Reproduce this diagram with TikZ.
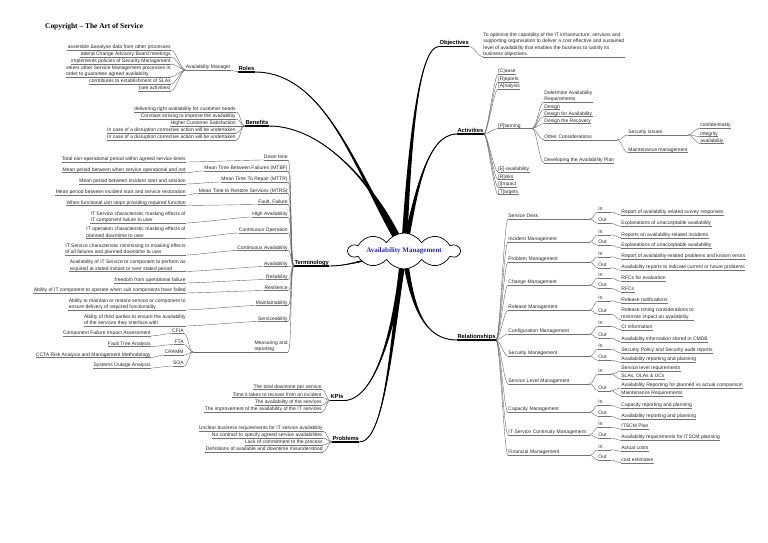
\documentclass[tikz,border=0pt]{standalone}
\usepackage{fontspec}
\setmainfont{Liberation Sans}
\newfontfamily\serifbf{Liberation Serif}
\usetikzlibrary{shapes.symbols,calc}
\definecolor{cloudblue}{RGB}{40,40,215}
\tikzset{
  t/.style={font=\fontsize{5.0}{6.4}\selectfont, inner sep=0.4pt, outer sep=0pt, align=left, text=black!85, text depth=1.1pt},
  ulline/.style={draw=black!55, line width=0.4pt},
  ul/.style={append after command={(\tikzlastnode.south west) edge[ulline] (\tikzlastnode.south east)}},
  lt/.style={t, ul, anchor=south east},
  rt/.style={t, ul, anchor=south west},
  mainlbl/.style={font=\bfseries\fontsize{5.8}{7}\selectfont, inner sep=0.5pt, outer sep=0pt, text depth=1.3pt, anchor=south west,
    append after command={(\tikzlastnode.south west) edge[line width=1.1pt] (\tikzlastnode.south east)}},
  conn/.style={draw=black!60, line width=0.4pt},
  ttl/.style={font=\serifbf\bfseries\fontsize{7.4}{8}\selectfont, inner sep=0pt, anchor=west},
  centercloud/.style={cloud, draw=black, line width=0.7pt, fill=white, cloud puffs=10, cloud puff arc=115,
    cloud ignores aspect, minimum width=111pt, minimum height=36pt, inner sep=0pt,
    font=\serifbf\bfseries\fontsize{7}{8}\selectfont, text=cloudblue}
}
% left connector: from start going left into end from the right
\newcommand\lc[3][5]{\draw[conn] (#2) .. controls +(-#1,0) and +(#1,0) .. (#3);}
% right connector
\newcommand\rc[3][5]{\draw[conn] (#2) .. controls +(#1,0) and +(-#1,0) .. (#3);}
% tapered main branch
\newcommand\mbranch[5]{%
  \fill[black] ($(#1)+(#5)$) .. controls ($(#2)+0.5*(#5)$) and (#3) .. (#4) .. controls (#3) and ($(#2)-0.5*(#5)$) .. ($(#1)-(#5)$) -- cycle;
  \draw[line width=0.9pt] (#1) .. controls (#2) and (#3) .. (#4);}
% relationship row
\newcommand\relrow[9]{%
  \node[rt, text width=81pt] (#1) at (508,#2) {#3};
  \node[rt, text width=12pt] (#1i) at (598,#4) {In};
  \node[rt, text width=12pt] (#1o) at (598,#5) {Out};
  \node[rt] (#1ti) at (621,#6) {#7};
  \node[rt] (#1to) at (621,#8) {#9};
  \rc[4]{rel.south east}{#1.south west}
  \rc[4]{#1.south east}{#1i.south west}
  \rc[4]{#1.south east}{#1o.south west}
  \rc[4]{#1i.south east}{#1ti.south west}
  \rc[4]{#1o.south east}{#1to.south west}}
\begin{document}
\begin{tikzpicture}[x=1pt,y=-1pt]
\useasboundingbox (0,0) rectangle (768,543);

% ---------- main labels ----------
\node[mainlbl] (roles) at (238,72) {Roles};
\node[mainlbl] (ben) at (245,126) {Benefits};
\node[mainlbl] (term) at (294,266) {Terminology};
\node[mainlbl] (kpi) at (330,400.5) {KPIs};
\node[mainlbl] (prob) at (332,442) {Problems};
\node[mainlbl] (obj) at (439,46.5) {Objectives};
\node[mainlbl] (act) at (457,134) {Activities};
\node[mainlbl] (rel) at (457,340) {Relationships};

% ---------- main branches ----------
\coordinate (cc) at (404,251);
\mbranch{cc}{360,185}{330,72}{roles.south east}{3,0}
\mbranch{cc}{385,200}{330,126}{ben.south east}{3,0}
\mbranch{cc}{410,130}{420,46.5}{obj.south west}{3,0}
\mbranch{cc}{415,200}{425,134}{act.south west}{3,0}
\mbranch{cc}{412,310}{425,340}{rel.south west}{3,0}
\mbranch{cc}{370,258}{350,266}{term.south east}{0,3}
\mbranch{cc}{395,330}{375,400.5}{kpi.south east}{3,0}
\mbranch{cc}{392,340}{385,442}{prob.south east}{3,0}

\node[centercloud] (cl) at (cc) {Availability Management};

% ---------- title ----------
\node[ttl] (title) at (45,27) {Copyright – The Art of Service};

% ---------- Roles ----------
\node[lt] (am) at (231,70) {Availability Manager};
\rc[3]{am.south east}{roles.south west}
\node[lt] (r1) at (171,50) {assemble \&analyse data from other processes};
\node[lt] (r2) at (171,57) {attend Change Advisory Board meetings};
\node[lt] (r3) at (171,64) {implements policies of Security Management};
\node[lt] (r4) at (171,77) {steers other Service Management processes in\\order to guarantee agreed availability};
\node[lt] (r5) at (171,84) {contributes to establishment of SLAs};
\node[lt] (r6) at (171,91) {(see activities)};
\foreach \n in {r1,r2,r3,r4,r5,r6}{\lc[5]{am.south west}{\n.south east}}

% ---------- Benefits ----------
\node[lt] (b1) at (236,112) {delivering right availability for customer needs};
\node[lt] (b2) at (236,119) {Constant striving to improve the availability};
\node[lt] (b3) at (236,126) {Higher Customer Satisfaction};
\node[lt] (b4) at (236,133) {In case of a disruption corrective action will be undertaken};
\node[lt] (b5) at (236,140) {In case of a disruption corrective action will be undertaken};
\foreach \n in {b1,b2,b3,b4,b5}{\lc[5]{ben.south west}{\n.south east}}

% ---------- Terminology ----------
\node[lt] (t1) at (288,160) {Down time};
\node[lt] (t2) at (288,171) {Mean Time Between Failures (MTBF)};
\node[lt] (t3) at (288,182) {Mean Time To Repair (MTTR)};
\node[lt] (t4) at (288,193.5) {Mean Time to Restore Services (MTRS)};
\node[lt] (t5) at (288,204.5) {Fault, Failure};
\node[lt] (t6) at (288,217) {High Availability};
\node[lt] (t7) at (288,233) {Continuous Operation};
\node[lt] (t8) at (288,250.5) {Continuous Availability};
\node[lt] (t9) at (288,266.5) {Availability};
\node[lt] (t10) at (288,279.5) {Reliability};
\node[lt] (t11) at (288,290.5) {Resilience};
\node[lt] (t12) at (288,305.5) {Maintainability};
\node[lt] (t13) at (288,321.5) {Serviceability};
\node[lt] (meas) at (288,352) {Measuring and\\reporting};
\foreach \n in {t1,t2,t3,t4,t5,t6,t7,t8,t9,t10,t11,t12,t13,meas}{\lc[4]{term.south west}{\n.south east}}

\node[lt] (d1) at (186,162) {Total non-operational period within agreed service times};
\node[lt] (d2) at (186,172.5) {Mean period between when service operational and not};
\node[lt] (d3) at (186,184) {Mean period between incident start and solution};
\node[lt] (d4) at (186,195) {Mean period between incident start and service restoration};
\node[lt] (d5) at (186,205.5) {When functional unit stops providing required function};
\node[lt] (d6) at (186,223) {IT Service characteristic masking effects of\\IT component failure to user};
\node[lt] (d7) at (186,238.5) {IT operation characteristic masking effects of\\planned downtime to user};
\node[lt] (d8) at (186,255) {IT Service characteristic minimising or masking effects\\of all failures and planned downtime to user};
\node[lt] (d9) at (186,271.5) {Availability of IT Service or component to perform as\\required at stated instant or over stated period};
\node[lt] (d10) at (186,283) {freedom from operational failure};
\node[lt] (d11) at (186,293) {Ability of IT component to operate when sub components have failed};
\node[lt] (d12) at (186,310) {Ability to maintain or restore service or component to\\ensure delivery of required functionality};
\node[lt] (d13) at (186,326) {Ability of third parties to ensure the availability\\of the services they interface with};
\foreach \i in {1,...,13}{\lc[10]{t\i.south west}{d\i.south east}}

\coordinate (mhub) at (193,352);
\draw[conn] (meas.south west) -- (mhub);
\node[lt] (a1) at (184,333.5) {CFIA};
\node[lt] (a2) at (184,344.5) {FTA};
\node[lt] (a3) at (184,355) {CRAMM};
\node[lt] (a4) at (184,366) {SOA};
\node[lt] (f1) at (151,336) {Component Failure Impact Assessment};
\node[lt] (f2) at (151,346.5) {Fault Tree Analysis};
\node[lt] (f3) at (151,357.5) {CCTA Risk Analysis and Management Methodology};
\node[lt] (f4) at (151,368) {Systems Outage Analysis};
\foreach \i in {1,...,4}{\lc[4]{mhub}{a\i.south east}\lc[6]{a\i.south west}{f\i.south east}}

% ---------- KPIs ----------
\node[lt] (k1) at (322,389.5) {The total downtime per service};
\node[lt] (k2) at (322,397.5) {Time it takes to recover from an incident};
\node[lt] (k3) at (322,405) {The availability of the services};
\node[lt] (k4) at (322,412) {The improvement of the availability of the IT services};
\foreach \n in {k1,k2,k3,k4}{\lc[4]{kpi.south west}{\n.south east}}

% ---------- Problems ----------
\node[lt] (p1) at (323,431) {Unclear business requirements for IT service availability};
\node[lt] (p2) at (323,438) {No contract to specify agreed service availabilities};
\node[lt] (p3) at (323,445) {Lack of commitment to the process};
\node[lt] (p4) at (323,452) {Definitions of available and downtime misunderstood};
\foreach \n in {p1,p2,p3,p4}{\lc[4]{prob.south west}{\n.south east}}

% ---------- Objectives ----------
\node[rt] (objt) at (483,57) {To optimise the capability of the IT infrastructure, services and\\supporting organisation to deliver a cost effective and sustained\\level of availability that enables the business to satisfy its\\business objectives.};
\rc[5]{obj.south east}{objt.south west}

% ---------- Activities ----------
\node[rt] (ac1) at (498,74.5) {[C]ause};
\node[rt] (ac2) at (498,82) {[R]eports};
\node[rt] (ac3) at (498,89) {[A]nalysis};
\node[rt, text width=33.2pt] (ac4) at (498,128.5) {[P]lanning};
\node[rt] (ac5) at (498,172) {[E]-availability};
\node[rt] (ac6) at (498,179.5) {[R]isks};
\node[rt] (ac7) at (498,187) {[I]mpact};
\node[rt] (ac8) at (498,194.5) {[T]argets};
\foreach \n in {ac1,ac2,ac3,ac4,ac5,ac6,ac7,ac8}{\rc[4]{act.south east}{\n.south west}}

\node[rt] (pl1) at (544,102) {Determine Availability\\Requirements};
\node[rt] (pl2) at (544,109.5) {Design};
\node[rt] (pl3) at (544,116.5) {Design for Availability};
\node[rt] (pl4) at (544,123.5) {Design the Recovery};
\node[rt, text width=72.2pt] (pl5) at (544,140) {Other Considerations};
\node[rt] (pl6) at (544,163) {Developing the Availability Plan};
\foreach \n in {pl1,pl2,pl3,pl4,pl5,pl6}{\rc[5]{ac4.south east}{\n.south west}}

\node[rt, text width=59.2pt] (oc1) at (628,135) {Security issues};
\node[rt] (oc2) at (628,152.5) {Maintenance management};
\foreach \n in {oc1,oc2}{\rc[5]{pl5.south east}{\n.south west}}

\node[rt] (s1) at (700,128) {confidentiality};
\node[rt] (s2) at (700,136.5) {integrity};
\node[rt] (s3) at (700,143.5) {availability};
\foreach \n in {s1,s2,s3}{\rc[5]{oc1.south east}{\n.south west}}

% ---------- Relationships ----------
\relrow{q1}{219}{Service Desk}{212}{223.3}{215}{Report of availability related survey responses}{226.3}{Explanations of unacceptable availability}
\relrow{q2}{241.7}{Incident Management}{234.7}{245.3}{237.7}{Reports on availability-related incidents}{248}{Explanations of unacceptable availability}
\relrow{q3}{262.3}{Problem Management}{256.7}{267.7}{259}{Report of availability-related problems and known errors}{270.3}{Availability reports to indicate current or future problems}
\relrow{q4}{285}{Change Management}{278}{288.3}{281.3}{RFCs for evaluation}{292}{RFCs}
\relrow{q5}{310.3}{Release Management}{300.7}{314}{303}{Release notifications}{319.7}{Release timing considerations to\\minimise impact on availability}
\relrow{q6}{334}{Configuration Management}{326.3}{338}{329.7}{CI information}{342}{Availability information stored in CMDB}
\relrow{q7}{356.3}{Security Management}{349}{360.3}{353}{Security Policy and Security audit reports}{362.3}{Availability reporting and planning}
\relrow{q9}{412.3}{Capacity Management}{405.3}{416.3}{408.3}{Capacity reporting and planning}{419.3}{Availability reporting and planning}
\relrow{q10}{434.7}{IT Service Continuity Management}{427.3}{438}{429}{ITSCM Plan}{440.3}{Availability requirements for ITSCM planning}
\relrow{q11}{455.3}{Financial Management}{449.7}{460}{451.3}{Actual costs}{462.7}{cost estimates}

% Service Level Management (two items each side)
\node[rt, text width=81pt] (q8) at (508,383.7) {Service Level Management};
\node[rt, text width=12pt] (q8i) at (598,374) {In};
\node[rt, text width=12pt] (q8o) at (598,390.7) {Out};
\node[rt] (q8ta) at (621,371.3) {Service level requirements};
\node[rt] (q8tb) at (621,379) {SLAs, OLAs \& UCs};
\node[rt] (q8tc) at (621,388) {Availability Reporting for planned vs actual comparison};
\node[rt] (q8td) at (621,395.7) {Maintenance Requirements};
\rc[4]{rel.south east}{q8.south west}
\rc[4]{q8.south east}{q8i.south west}
\rc[4]{q8.south east}{q8o.south west}
\rc[4]{q8i.south east}{q8ta.south west}
\rc[4]{q8i.south east}{q8tb.south west}
\rc[4]{q8o.south east}{q8tc.south west}
\rc[4]{q8o.south east}{q8td.south west}
\end{tikzpicture}
\end{document}
